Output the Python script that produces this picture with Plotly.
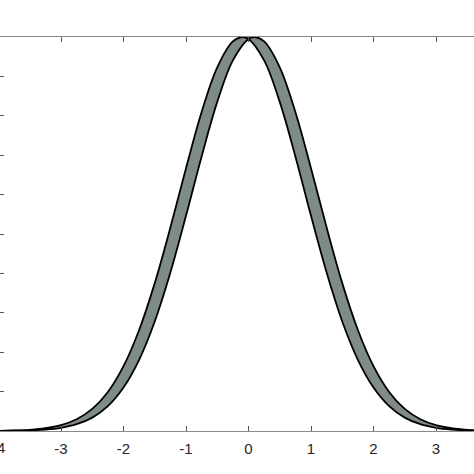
import plotly.graph_objects as go

# Left curve (peak slightly left of 0) (normalised height)
x_left = [-4, -3.75, -3.5, -3.25, -3, -2.75, -2.5, -2.25, -2, -1.75, -1.5, -1.25, -1,
          -0.75, -0.5, -0.25, -0.1, 0, 0.25, 0.5, 0.75, 1, 1.25, 1.5, 1.75, 2, 2.25,
          2.5, 2.75, 3, 3.25, 3.5, 3.75, 4]
y_left = [0.0005, 0.0013, 0.0031, 0.0070, 0.0149, 0.0299, 0.0561, 0.0991, 0.1645,
          0.2564, 0.3753, 0.5163, 0.6670, 0.8097, 0.9231, 0.9888, 1.0, 0.9950, 0.9406,
          0.8353, 0.6969, 0.5461, 0.4021, 0.2780, 0.1807, 0.1103, 0.0632, 0.0340,
          0.0172, 0.0082, 0.0037, 0.0015, 0.0006, 0.0002]

# Right curve (peak slightly right of 0)
x_right = [-4, -3.75, -3.5, -3.25, -3, -2.75, -2.5, -2.25, -2, -1.75, -1.5, -1.25, -1,
           -0.75, -0.5, -0.25, 0, 0.1, 0.25, 0.5, 0.75, 1, 1.25, 1.5, 1.75, 2, 2.25,
           2.5, 2.75, 3, 3.25, 3.5, 3.75, 4]
y_right = [0.0002, 0.0006, 0.0015, 0.0037, 0.0082, 0.0172, 0.0340, 0.0632, 0.1103,
           0.1807, 0.2780, 0.4021, 0.5461, 0.6969, 0.8353, 0.9406, 0.9950, 1.0, 0.9888,
           0.9231, 0.8097, 0.6670, 0.5163, 0.3753, 0.2564, 0.1645, 0.0991, 0.0561,
           0.0299, 0.0149, 0.0070, 0.0031, 0.0013, 0.0005]

x_ticks = [-4, -3, -2, -1, 0, 1, 2, 3, 4]
x_tick_labels = ["-4", "-3", "-2", "-1", "0", "1", "2", "3", "4"]
y_ticks = [0, 0.1, 0.2, 0.3, 0.4, 0.5, 0.6, 0.7, 0.8, 0.9, 1.0]

x_range = [-3.976, 3.608]
fill_color = "#7f8b88"
font_family = "Arial, Liberation Sans"

fig = go.Figure()
fig.add_trace(go.Scatter(x=x_right, y=y_right, mode="lines",
                         line=dict(color="black", width=1.8, shape="spline"),
                         showlegend=False, hoverinfo="skip"))
fig.add_trace(go.Scatter(x=x_left, y=y_left, mode="lines", fill="tonexty",
                         fillcolor=fill_color,
                         line=dict(color="black", width=1.8, shape="spline"),
                         showlegend=False, hoverinfo="skip"))

# "-4" tick label, partly cut off at the left edge (as in the reference)
fig.add_annotation(x=(x_ticks[0] - x_range[0]) / (x_range[1] - x_range[0]), y=0,
                   xref="paper", yref="paper", text=x_tick_labels[0], showarrow=False,
                   xanchor="center", yanchor="top", yshift=-6,
                   font=dict(family=font_family, size=15, color="#262626"))

fig.update_layout(
    width=474, height=474,
    margin=dict(l=0, r=0, t=37, b=43),
    paper_bgcolor="white", plot_bgcolor="white",
    font=dict(family=font_family, size=15, color="#262626"),
    xaxis=dict(range=x_range, tickvals=x_ticks, ticktext=x_tick_labels,
               showgrid=False, zeroline=False, showline=True, linecolor="#8a8a8a",
               linewidth=1.2, mirror="ticks", ticks="inside", ticklen=5,
               tickcolor="#555555", tickwidth=1.2, ticklabelstandoff=4),
    yaxis=dict(range=[0, 1], tickvals=y_ticks, showticklabels=False,
               showgrid=False, zeroline=False, showline=False,
               ticks="inside", ticklen=4, tickcolor="#555555", tickwidth=1.2),
)

fig.write_html("out.html", config={"displayModeBar": False},
               post_script="document.body.style.margin='0';document.body.style.padding='0';")
